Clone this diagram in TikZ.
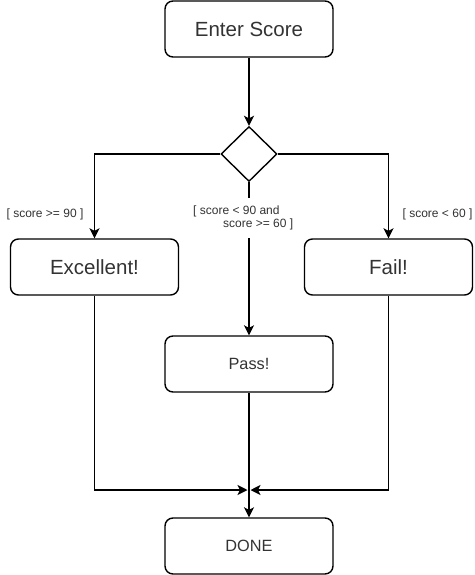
\documentclass[tikz,border=0pt]{standalone}
\usepackage{fontspec}
\setmainfont{Liberation Sans}
\usetikzlibrary{shapes.geometric,arrows.meta}
\definecolor{boxText}{HTML}{333333}
\tikzset{
    BOX/.style={draw=black, shape=rectangle, rounded corners=8pt,
        minimum width=168pt, minimum height=56pt, inner sep=0pt,
        line width=1.4pt, text=boxText},
    BIG_BOX/.style={BOX, font={\fontsize{20.5}{24}\selectfont}},
    SMALL_BOX/.style={BOX, font={\fontsize{16.3}{19}\selectfont}},
    CHOICE/.style={draw=black, shape=diamond, minimum width=56pt,
        minimum height=55pt, inner sep=0pt, line width=1.4pt},
    GUARD/.style={fill=white, inner xsep=1pt, inner ysep=8pt,
        text=boxText, font={\fontsize{12}{12.5}\selectfont}},
    EDGE/.style={draw=black, line width=1.4pt},
    ARROW/.style={EDGE, -{Stealth[length=10pt, width=10pt, inset=2.5pt]}}
}
\pgfdeclarelayer{edgelayer}
\pgfdeclarelayer{nodelayer}
\pgfsetlayers{edgelayer,nodelayer,main}

\begin{document}
\begin{tikzpicture}[x=1pt, y=-1pt]
    \useasboundingbox (0,0) rectangle (474,575);
    \begin{pgfonlayer}{nodelayer}
        \node [BIG_BOX] (enter) at (249, 29) {Enter Score};
        \node [CHOICE] (choice) at (249, 154) {};
        \node [BIG_BOX] (excellent) at (94.5, 267) {Excellent!};
        \node [BIG_BOX] (fail) at (388.5, 267) {Fail!};
        \node [SMALL_BOX] (pass) at (249, 364) {Pass!};
        \node [SMALL_BOX] (done) at (249, 546) {DONE};
        \coordinate (join) at (249, 490);
        \node [GUARD] (high) at (45, 214) {[ score >= 90 ]};
        \node [GUARD, anchor=west, align=left] (mid) at (192, 218)
            {[ score < 90 and\\\hspace*{30pt}score >= 60 ]};
        \node [GUARD] (low) at (437.5, 214) {[ score < 60 ]};
    \end{pgfonlayer}
    \begin{pgfonlayer}{edgelayer}
        \draw[ARROW] (enter) to (choice);
        \draw[ARROW] (choice.west) -| (excellent.north);
        \draw[ARROW] (choice.east) -| (fail.north);
        \draw[ARROW] (choice.south) to (pass.north);
        \draw[ARROW, shorten >=1.5pt] (excellent.south) |- (join);
        \draw[ARROW, shorten >=1.5pt] (fail.south) |- (join);
        \draw[ARROW] (pass) to (done);
    \end{pgfonlayer}
\end{tikzpicture}
\end{document}
